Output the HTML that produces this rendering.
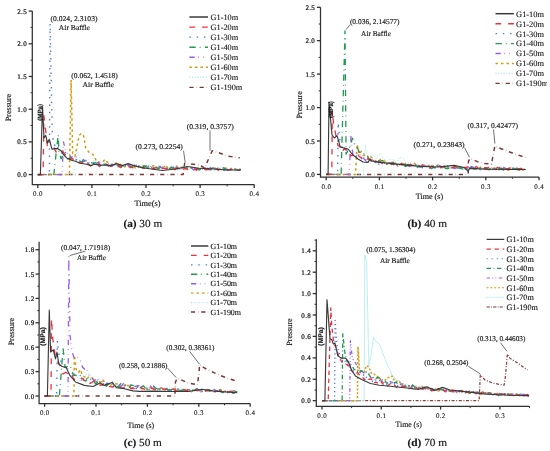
<!DOCTYPE html>
<html><head><meta charset="utf-8"><style>
html,body{margin:0;padding:0;background:#fff;overflow:hidden;}
svg{display:block;filter:blur(0.35px);}
text{font-family:"Liberation Serif", serif;fill:#151515;stroke:#151515;stroke-width:0.15px;text-rendering:geometricPrecision;}
.tk{stroke-width:0.22px;}
.tx{stroke-width:0.1px;}
.lg{stroke-width:0.12px;}
</style></head><body>
<svg width="550" height="451" viewBox="0 0 550 451">
<defs><clipPath id="clipb"><rect x="0" y="0" width="547.0" height="451"/></clipPath></defs>
<rect width="550" height="451" fill="#fff"/>
<path d="M37.8,174.6 L183.1,174.6 L184.7,163.2 L190.4,163.9 L200.5,165.4 L204.9,168.3 L207.4,161.5 L212.2,150.8 L219.5,153.0 L228.2,156.3 L239.8,157.8" fill="none" stroke="#7a3838" stroke-width="1.5" stroke-dasharray="4.2,2.8,0.3,2.9" stroke-linejoin="round"/>
<path d="M37.8,174.6 L73.5,174.6 L75.7,161.5 L76.8,150.4 L78.9,155.0 L81.1,160.1 L83.2,158.4 L85.4,159.4 L87.6,160.1 L89.7,158.0 L91.9,157.7 L94.1,161.1 L96.2,161.8 L98.4,162.1 L100.6,160.2 L102.7,162.3 L104.9,162.7 L107.0,165.4 L109.2,163.3 L111.4,163.9 L113.5,162.0 L115.7,165.2 L117.9,164.8 L120.0,166.7 L122.2,163.9 L124.4,164.6 L126.5,163.7 L128.7,166.5 L130.9,166.0 L133.0,166.3 L135.2,164.4 L137.3,164.8 L139.5,165.6 L141.7,167.0 L143.8,166.9 L146.0,165.6 L148.2,165.4 L150.3,165.3 L152.5,167.5 L154.7,167.1 L156.8,167.5 L159.0,165.2 L161.1,166.6 L163.3,166.3 L165.5,168.8 L167.6,167.1 L169.8,167.6 L172.0,165.6 L174.1,167.7 L176.3,167.5 L178.5,169.1 L180.6,167.2 L182.8,167.2 L185.0,166.4 L187.1,168.2 L189.3,168.6 L191.4,168.6 L193.6,167.4 L195.8,166.9 L197.9,167.8 L200.1,168.5 L202.3,169.4 L204.4,167.8 L206.6,167.7 L208.8,166.9 L210.9,169.1 L213.1,168.6 L215.2,169.5 L217.4,167.1 L219.6,168.1 L221.7,167.5 L223.9,169.9 L226.1,168.7 L228.2,169.1 L230.4,167.1 L232.6,168.4 L234.7,168.5 L236.9,170.0 L239.1,168.8 L240.7,168.7" fill="none" stroke="#a8ecec" stroke-width="1.0" stroke-dasharray="1,1.7" stroke-linejoin="round"/>
<path d="M37.8,174.6 L69.4,174.6 L71.1,79.8 L72.7,153.7 L74.9,156.4 L77.0,146.7 L79.2,135.3 L81.4,133.3 L83.5,135.2 L85.7,147.8 L87.8,150.7 L90.0,153.5 L92.2,154.0 L94.3,156.0 L96.5,161.6 L98.7,161.9 L100.8,163.1 L103.0,161.7 L105.2,159.3 L107.3,162.3 L109.5,162.7 L111.6,165.0 L113.8,165.2 L116.0,162.8 L118.1,164.3 L120.3,164.2 L122.5,166.2 L124.6,167.0 L126.8,164.7 L129.0,165.4 L131.1,164.6 L133.3,166.2 L135.5,167.9 L137.6,166.0 L139.8,166.4 L141.9,165.2 L144.1,166.0 L146.3,168.3 L148.4,167.0 L150.6,167.4 L152.8,165.9 L154.9,165.7 L157.1,168.0 L159.3,167.4 L161.4,168.2 L163.6,166.7 L165.7,165.7 L167.9,167.7 L170.1,167.4 L172.2,168.7 L174.4,167.7 L176.6,166.1 L178.7,167.6 L180.9,167.4 L183.1,169.0 L185.2,168.9 L187.4,167.0 L189.6,167.9 L191.7,167.4 L193.9,169.1 L196.0,169.9 L198.2,168.1 L200.4,168.6 L202.5,167.6 L204.7,168.8 L206.9,170.2 L209.0,168.8 L211.2,169.1 L213.4,167.7 L215.5,168.3 L217.7,170.1 L219.8,169.3 L222.0,169.8 L224.2,168.2 L226.3,168.0 L228.5,169.8 L230.7,169.4 L232.8,170.3 L235.0,169.0 L237.2,168.0 L239.3,169.5 L240.7,169.4" fill="none" stroke="#d49a10" stroke-width="1.5" stroke-dasharray="2.5,3" stroke-linejoin="round"/>
<path d="M37.8,174.6 L62.1,174.6 L63.5,141.9 L65.9,153.0 L68.1,154.0 L70.3,159.0 L72.4,156.4 L74.6,156.8 L76.8,157.5 L78.9,159.5 L81.1,162.7 L83.2,159.7 L85.4,160.8 L87.6,160.5 L89.7,163.4 L91.9,164.4 L94.1,162.0 L96.2,163.0 L98.4,162.4 L100.6,165.7 L102.7,164.8 L104.9,163.4 L107.0,163.9 L109.2,163.9 L111.4,166.9 L113.5,164.8 L115.7,164.6 L117.9,164.4 L120.0,165.5 L122.2,167.5 L124.4,165.0 L126.5,165.5 L128.7,164.7 L130.9,166.9 L133.0,167.4 L135.2,165.4 L137.3,166.0 L139.5,165.3 L141.7,168.0 L143.8,167.2 L146.0,166.1 L148.2,166.3 L150.3,166.2 L152.5,168.9 L154.7,167.1 L156.8,166.9 L159.0,166.4 L161.1,167.4 L163.3,169.2 L165.5,167.2 L167.6,167.6 L169.8,166.7 L172.0,168.7 L174.1,169.2 L176.3,167.6 L178.5,167.9 L180.6,167.1 L182.8,169.6 L185.0,168.9 L187.1,168.0 L189.3,167.9 L191.4,167.7 L193.6,170.1 L195.8,168.6 L197.9,168.5 L200.1,167.8 L202.3,168.6 L204.4,170.3 L206.6,168.5 L208.8,168.7 L210.9,167.7 L213.1,169.5 L215.2,170.0 L217.4,168.6 L219.6,168.8 L221.7,167.9 L223.9,170.3 L226.1,169.7 L228.2,168.9 L230.4,168.6 L232.6,168.4 L234.7,170.7 L236.9,169.4 L239.1,169.3 L240.7,169.4" fill="none" stroke="#9a5cf0" stroke-width="1.3" stroke-dasharray="5.3,3.5,0.6,4.3,0.6,4.3" stroke-linejoin="round"/>
<path d="M37.8,174.6 L53.8,174.6 L58.2,134.7 L58.9,151.7 L61.1,158.8 L63.2,154.3 L65.4,153.9 L67.6,158.9 L69.7,158.0 L71.9,159.1 L74.0,157.9 L76.2,159.1 L78.4,163.1 L80.5,161.5 L82.7,161.9 L84.9,160.9 L87.0,162.7 L89.2,165.3 L91.4,162.8 L93.5,163.3 L95.7,162.7 L97.9,164.9 L100.0,166.1 L102.2,163.3 L104.3,164.3 L106.5,164.2 L108.7,166.3 L110.8,166.2 L113.0,163.8 L115.2,165.4 L117.3,165.5 L119.5,167.2 L121.7,166.1 L123.8,164.3 L126.0,166.6 L128.1,166.5 L130.3,167.7 L132.5,166.0 L134.6,165.2 L136.8,167.7 L139.0,167.2 L141.1,167.8 L143.3,165.9 L145.5,166.1 L147.6,168.5 L149.8,167.4 L152.0,167.6 L154.1,165.9 L156.3,167.2 L158.4,168.9 L160.6,167.3 L162.8,167.5 L164.9,166.4 L167.1,168.3 L169.3,169.1 L171.4,167.2 L173.6,167.6 L175.8,167.1 L177.9,169.1 L180.1,169.0 L182.2,167.1 L184.4,168.0 L186.6,167.9 L188.7,169.7 L190.9,168.6 L193.1,167.2 L195.2,168.6 L197.4,168.6 L199.6,170.0 L201.7,168.3 L203.9,167.6 L206.1,169.3 L208.2,169.1 L210.4,169.9 L212.5,167.9 L214.7,168.1 L216.9,169.9 L219.0,169.3 L221.2,169.6 L223.4,167.7 L225.5,168.9 L227.7,170.3 L229.9,169.2 L232.0,169.3 L234.2,167.9 L236.3,169.7 L238.5,170.4 L240.7,169.4" fill="none" stroke="#1f9a50" stroke-width="1.3" stroke-dasharray="6.3,4,0.8,4.4" stroke-linejoin="round"/>
<path d="M37.8,174.6 L49.4,174.6 L50.1,23.5 L52.3,135.4 L54.5,145.5 L56.6,143.1 L58.8,150.0 L61.0,151.0 L63.1,155.8 L65.3,152.4 L67.4,154.6 L69.6,154.5 L71.8,159.1 L73.9,159.8 L76.1,159.9 L78.3,159.3 L80.4,159.5 L82.6,162.7 L84.8,162.8 L86.9,164.3 L89.1,161.3 L91.3,163.0 L93.4,162.5 L95.6,165.7 L97.7,164.3 L99.9,164.3 L102.1,162.7 L104.2,163.9 L106.4,165.5 L108.6,165.7 L110.7,165.6 L112.9,163.5 L115.1,165.2 L117.2,165.1 L119.4,167.7 L121.5,165.6 L123.7,166.0 L125.9,164.5 L128.0,166.6 L130.2,167.0 L132.4,167.3 L134.5,166.1 L136.7,165.1 L138.9,166.5 L141.0,166.8 L143.2,168.4 L145.4,166.0 L147.5,166.6 L149.7,165.4 L151.8,168.2 L154.0,167.6 L156.2,168.1 L158.3,166.2 L160.5,166.7 L162.7,167.7 L164.8,168.4 L167.0,168.8 L169.2,166.9 L171.3,167.6 L173.5,167.1 L175.6,169.6 L177.8,168.3 L180.0,168.7 L182.1,166.7 L184.3,168.2 L186.5,168.6 L188.6,169.6 L190.8,168.7 L193.0,167.6 L195.1,168.1 L197.3,168.4 L199.5,170.2 L201.6,168.6 L203.8,168.9 L205.9,167.2 L208.1,169.4 L210.3,169.1 L212.4,170.1 L214.6,168.4 L216.8,168.2 L218.9,168.6 L221.1,169.5 L223.3,170.3 L225.4,168.8 L227.6,168.9 L229.7,167.9 L231.9,170.2 L234.1,169.5 L236.2,170.3 L238.4,168.1 L240.6,169.0 L240.7,169.4" fill="none" stroke="#4a80f0" stroke-width="1.4" stroke-dasharray="1.5,5.8" stroke-linejoin="round"/>
<path d="M37.8,174.6 L43.1,174.6 L43.9,115.7 L45.1,125.5 L47.3,145.7 L49.4,146.1 L51.6,146.8 L53.8,147.1 L55.9,151.9 L58.1,152.0 L60.3,153.0 L62.4,150.4 L64.6,154.4 L66.7,156.0 L68.9,160.2 L71.1,157.8 L73.2,159.2 L75.4,158.8 L77.6,163.1 L79.7,162.2 L81.9,163.4 L84.1,160.6 L86.2,163.6 L88.4,163.6 L90.5,166.1 L92.7,163.3 L94.9,164.2 L97.0,163.3 L99.2,166.5 L101.4,165.3 L103.5,165.8 L105.7,163.4 L107.9,165.6 L110.0,165.8 L112.2,167.3 L114.4,165.0 L116.5,165.3 L118.7,165.2 L120.8,167.5 L123.0,166.9 L125.2,166.4 L127.3,165.1 L129.5,166.5 L131.7,167.5 L133.8,167.8 L136.0,166.5 L138.2,165.9 L140.3,167.0 L142.5,168.0 L144.6,168.3 L146.8,166.7 L149.0,166.7 L151.1,167.1 L153.3,168.9 L155.5,167.9 L157.6,167.6 L159.8,166.2 L162.0,168.3 L164.1,168.2 L166.3,169.1 L168.5,166.7 L170.6,167.7 L172.8,167.4 L174.9,169.7 L177.1,168.0 L179.3,168.3 L181.4,166.6 L183.6,169.1 L185.8,168.6 L187.9,169.6 L190.1,167.1 L192.3,168.3 L194.4,168.1 L196.6,170.2 L198.7,168.4 L200.9,168.6 L203.1,167.4 L205.2,169.6 L207.4,169.3 L209.6,169.7 L211.7,167.7 L213.9,168.6 L216.1,168.9 L218.2,170.3 L220.4,169.0 L222.6,168.5 L224.7,168.2 L226.9,169.7 L229.0,170.0 L231.2,169.5 L233.4,168.4 L235.5,168.6 L237.7,169.8 L239.9,170.1 L240.7,169.4" fill="none" stroke="#f0303a" stroke-width="1.3" stroke-dasharray="5.7,7" stroke-linejoin="round"/>
<path d="M37.8,174.6 L40.4,174.6 L42.5,106.6 L44.0,138.0 L45.8,135.4 L47.5,143.2 L49.3,139.3 L52.0,149.1 L57.3,148.4 L60.8,150.4 L63.8,155.0 L67.0,158.2 L71.6,160.2 L76.1,161.5 L80.0,163.2 L86.5,164.3 L91.1,165.6 L94.1,164.3 L100.0,165.1 L106.8,165.1 L111.1,165.6 L116.8,163.6 L122.2,165.6 L128.1,163.6 L135.2,166.1 L146.0,168.2 L162.2,170.5 L175.8,169.0 L187.5,166.5 L199.0,168.3 L213.6,169.0 L228.2,170.0 L240.7,170.0" fill="none" stroke="#3a3a3a" stroke-width="1.15" stroke-linejoin="round"/>
<path d="M32.3,11.1 V184.6 H254.3" fill="none" stroke="#303030" stroke-width="1.25"/>
<line x1="28.7" y1="174.6" x2="32.3" y2="174.6" stroke="#303030" stroke-width="1.3"/>
<text x="27.0" y="177.1" text-anchor="end" font-size="7.0" letter-spacing="0.35" class="tk">0.0</text>
<line x1="28.7" y1="141.9" x2="32.3" y2="141.9" stroke="#303030" stroke-width="1.3"/>
<text x="27.0" y="144.4" text-anchor="end" font-size="7.0" letter-spacing="0.35" class="tk">0.5</text>
<line x1="28.7" y1="109.2" x2="32.3" y2="109.2" stroke="#303030" stroke-width="1.3"/>
<text x="27.0" y="111.7" text-anchor="end" font-size="7.0" letter-spacing="0.35" class="tk">1.0</text>
<line x1="28.7" y1="76.5" x2="32.3" y2="76.5" stroke="#303030" stroke-width="1.3"/>
<text x="27.0" y="79.0" text-anchor="end" font-size="7.0" letter-spacing="0.35" class="tk">1.5</text>
<line x1="28.7" y1="43.8" x2="32.3" y2="43.8" stroke="#303030" stroke-width="1.3"/>
<text x="27.0" y="46.3" text-anchor="end" font-size="7.0" letter-spacing="0.35" class="tk">2.0</text>
<line x1="28.7" y1="11.1" x2="32.3" y2="11.1" stroke="#303030" stroke-width="1.3"/>
<text x="27.0" y="13.6" text-anchor="end" font-size="7.0" letter-spacing="0.35" class="tk">2.5</text>
<line x1="30.5" y1="158.2" x2="32.3" y2="158.2" stroke="#303030" stroke-width="1.0"/>
<line x1="30.5" y1="125.5" x2="32.3" y2="125.5" stroke="#303030" stroke-width="1.0"/>
<line x1="30.5" y1="92.8" x2="32.3" y2="92.8" stroke="#303030" stroke-width="1.0"/>
<line x1="30.5" y1="60.1" x2="32.3" y2="60.1" stroke="#303030" stroke-width="1.0"/>
<line x1="30.5" y1="27.4" x2="32.3" y2="27.4" stroke="#303030" stroke-width="1.0"/>
<line x1="37.8" y1="184.6" x2="37.8" y2="187.9" stroke="#303030" stroke-width="1.3"/>
<text x="38.0" y="196.2" text-anchor="middle" font-size="7.0" letter-spacing="0.35" class="tx">0.0</text>
<line x1="91.9" y1="184.6" x2="91.9" y2="187.9" stroke="#303030" stroke-width="1.3"/>
<text x="92.1" y="196.2" text-anchor="middle" font-size="7.0" letter-spacing="0.35" class="tx">0.1</text>
<line x1="146.0" y1="184.6" x2="146.0" y2="187.9" stroke="#303030" stroke-width="1.3"/>
<text x="146.2" y="196.2" text-anchor="middle" font-size="7.0" letter-spacing="0.35" class="tx">0.2</text>
<line x1="200.1" y1="184.6" x2="200.1" y2="187.9" stroke="#303030" stroke-width="1.3"/>
<text x="200.3" y="196.2" text-anchor="middle" font-size="7.0" letter-spacing="0.35" class="tx">0.3</text>
<line x1="254.2" y1="184.6" x2="254.2" y2="187.9" stroke="#303030" stroke-width="1.3"/>
<text x="254.4" y="196.2" text-anchor="middle" font-size="7.0" letter-spacing="0.35" class="tx">0.4</text>
<line x1="64.8" y1="184.6" x2="64.8" y2="186.4" stroke="#303030" stroke-width="1.0"/>
<line x1="118.9" y1="184.6" x2="118.9" y2="186.4" stroke="#303030" stroke-width="1.0"/>
<line x1="173.1" y1="184.6" x2="173.1" y2="186.4" stroke="#303030" stroke-width="1.0"/>
<line x1="227.1" y1="184.6" x2="227.1" y2="186.4" stroke="#303030" stroke-width="1.0"/>
<text transform="translate(11.2,107.5) rotate(-90)" text-anchor="middle" font-size="8.1">Pressure</text>
<text transform="translate(42.2,112.3) rotate(-90)" text-anchor="middle" font-size="6.2" font-weight="bold" style="font-family:'Liberation Sans',sans-serif">(MPa)</text>
<text x="134.4" y="206.0" font-size="8.20" textLength="26.1" lengthAdjust="spacingAndGlyphs">Time(s)</text>
<text x="123.4" y="227.3" font-size="10.8" textLength="38.8" lengthAdjust="spacingAndGlyphs"><tspan font-weight="bold">(a)</tspan> 30 m</text>
<text x="50.5" y="21.1" font-size="7.40" textLength="47.0" lengthAdjust="spacingAndGlyphs">(0.024, 2.3103)</text>
<text x="58.8" y="30.0" font-size="7.40" textLength="31.0" lengthAdjust="spacingAndGlyphs">Air Baffle</text>
<text x="71.3" y="77.6" font-size="7.40" textLength="46.6" lengthAdjust="spacingAndGlyphs">(0.062, 1.4518)</text>
<text x="82.5" y="86.9" font-size="7.40" textLength="31.4" lengthAdjust="spacingAndGlyphs">Air Baffle</text>
<text x="135.5" y="149.2" font-size="7.40" textLength="47.4" lengthAdjust="spacingAndGlyphs">(0.273, 0.2254)</text>
<text x="186.7" y="129.2" font-size="7.40" textLength="47.1" lengthAdjust="spacingAndGlyphs">(0.319, 0.3757)</text>
<line x1="183.5" y1="150.7" x2="185.2" y2="162.4" stroke="#333" stroke-width="0.7"/>
<line x1="210.0" y1="130.4" x2="210.0" y2="150.7" stroke="#333" stroke-width="0.7"/>
<line x1="189.4" y1="17.0" x2="208.0" y2="17.0" stroke="#3a3a3a" stroke-width="1.5"/>
<text x="210.5" y="19.8" font-size="8.31" class="lg">G1-10m</text>
<line x1="189.4" y1="27.1" x2="208.0" y2="27.1" stroke="#f0303a" stroke-width="1.4" stroke-dasharray="5.7,7"/>
<text x="210.5" y="29.9" font-size="8.31" class="lg">G1-20m</text>
<line x1="189.4" y1="37.1" x2="208.0" y2="37.1" stroke="#4a80f0" stroke-width="1.4" stroke-dasharray="1.5,5.8"/>
<text x="210.5" y="39.9" font-size="8.31" class="lg">G1-30m</text>
<line x1="189.4" y1="47.2" x2="208.0" y2="47.2" stroke="#1f9a50" stroke-width="1.4" stroke-dasharray="6.3,4,0.8,4.4"/>
<text x="210.5" y="50.0" font-size="8.31" class="lg">G1-40m</text>
<line x1="189.4" y1="57.2" x2="208.0" y2="57.2" stroke="#9a5cf0" stroke-width="1.4" stroke-dasharray="5.3,3.5,0.6,4.3,0.6,4.3"/>
<text x="210.5" y="60.0" font-size="8.31" class="lg">G1-50m</text>
<line x1="189.4" y1="67.2" x2="208.0" y2="67.2" stroke="#d49a10" stroke-width="1.4" stroke-dasharray="2.5,3"/>
<text x="210.5" y="70.1" font-size="8.31" class="lg">G1-60m</text>
<line x1="189.4" y1="77.3" x2="208.0" y2="77.3" stroke="#a8ecec" stroke-width="1.4" stroke-dasharray="1,1.7"/>
<text x="210.5" y="80.1" font-size="8.31" class="lg">G1-70m</text>
<line x1="189.4" y1="87.4" x2="208.0" y2="87.4" stroke="#7a3838" stroke-width="1.4" stroke-dasharray="4.2,2.8,0.3,2.9"/>
<text x="210.5" y="90.2" font-size="8.31" class="lg">G1-190m</text>
<g clip-path="url(#clipb)">
<path d="M326.2,174.4 L468.2,174.4 L468.5,161.0 L470.4,158.5 L480.5,163.0 L491.4,164.1 L494.0,151.0 L494.8,146.0 L501.8,149.0 L512.4,153.0 L526.0,157.8" fill="none" stroke="#7a3838" stroke-width="1.5" stroke-dasharray="4.2,2.8,0.3,2.9" stroke-linejoin="round"/>
<path d="M326.2,174.4 L363.4,174.4 L365.3,144.3 L367.7,157.7 L369.8,156.4 L372.0,155.7 L374.1,155.4 L376.2,158.8 L378.3,154.4 L380.5,154.2 L382.6,155.8 L384.7,160.0 L386.8,162.3 L389.0,159.1 L391.1,160.1 L393.2,159.3 L395.4,162.5 L397.5,161.2 L399.6,156.9 L401.7,157.8 L403.9,158.5 L406.0,163.3 L408.1,162.6 L410.3,162.7 L412.4,163.9 L414.5,164.2 L416.6,166.8 L418.8,164.2 L420.9,164.3 L423.0,164.4 L425.2,165.7 L427.3,167.1 L429.4,164.3 L431.5,165.3 L433.7,165.0 L435.8,167.1 L437.9,166.9 L440.0,164.8 L442.2,166.0 L444.3,165.8 L446.4,168.1 L448.6,166.5 L450.7,165.5 L452.8,166.5 L454.9,166.8 L457.1,168.7 L459.2,166.2 L461.3,166.4 L463.5,167.0 L465.6,167.9 L467.7,168.8 L469.8,166.3 L472.0,167.4 L474.1,167.5 L476.2,169.0 L478.4,168.6 L480.5,166.7 L482.6,168.2 L484.7,168.2 L486.9,169.8 L489.0,168.2 L491.1,167.4 L493.2,168.6 L495.4,168.7 L497.5,170.0 L499.6,167.6 L501.8,168.0 L503.9,168.8 L506.0,169.3 L508.1,169.8 L510.3,167.4 L512.4,168.7 L514.5,168.9 L516.7,169.9 L518.8,169.3 L520.9,167.5 L523.0,169.2 L525.2,169.1 L525.7,169.1" fill="none" stroke="#a8ecec" stroke-width="1.0" stroke-dasharray="1,1.7" stroke-linejoin="round"/>
<path d="M326.2,174.4 L355.5,174.4 L357.1,144.3 L359.2,154.3 L361.3,151.4 L363.4,155.4 L365.6,155.4 L367.7,158.3 L369.8,155.7 L372.0,157.9 L374.1,159.7 L376.2,161.2 L378.3,162.1 L380.5,159.3 L382.6,161.2 L384.7,160.9 L386.8,164.4 L389.0,163.1 L391.1,162.5 L393.2,162.2 L395.4,162.8 L397.5,165.7 L399.6,164.2 L401.7,164.8 L403.9,162.4 L406.0,164.5 L408.1,165.4 L410.3,166.0 L412.4,165.6 L414.5,163.4 L416.6,165.4 L418.8,165.2 L420.9,167.6 L423.0,165.6 L425.2,165.2 L427.3,165.1 L429.4,166.1 L431.5,168.0 L433.7,166.2 L435.8,166.6 L437.9,164.9 L440.0,167.3 L442.2,167.6 L444.3,167.7 L446.4,166.9 L448.6,165.6 L450.7,167.7 L452.8,167.5 L454.9,169.1 L457.1,166.9 L459.2,167.0 L461.3,167.2 L463.5,168.3 L465.6,169.3 L467.7,167.4 L469.8,167.8 L472.0,166.6 L474.1,169.1 L476.2,168.8 L478.4,168.6 L480.5,167.6 L482.6,167.1 L484.7,169.1 L486.9,168.7 L489.0,169.7 L491.1,167.3 L493.2,168.1 L495.4,168.3 L497.5,169.5 L499.6,169.8 L501.8,167.9 L503.9,168.5 L506.0,167.9 L508.1,170.3 L510.3,169.4 L512.4,169.2 L514.5,168.2 L516.7,168.4 L518.8,170.2 L520.9,169.6 L523.0,170.1 L525.2,168.0 L525.7,169.4" fill="none" stroke="#d49a10" stroke-width="1.5" stroke-dasharray="2.5,3" stroke-linejoin="round"/>
<path d="M326.2,174.4 L349.1,174.4 L351.0,136.3 L352.8,154.3 L354.9,152.8 L357.1,152.6 L359.2,152.6 L361.3,157.9 L363.4,158.1 L365.6,160.5 L367.7,157.2 L369.8,159.5 L372.0,159.1 L374.1,163.2 L376.2,161.9 L378.3,162.5 L380.5,160.6 L382.6,162.4 L384.7,163.6 L386.8,164.6 L389.0,164.0 L391.1,162.4 L393.2,163.6 L395.4,164.1 L397.5,166.5 L399.6,164.6 L401.7,165.0 L403.9,163.1 L406.0,166.0 L408.1,165.7 L410.3,167.3 L412.4,164.8 L414.5,165.2 L416.6,164.9 L418.8,166.9 L420.9,167.0 L423.0,166.1 L425.2,165.3 L427.3,165.0 L429.4,167.1 L431.5,166.9 L433.7,167.6 L435.8,165.0 L437.9,166.4 L440.0,165.9 L442.2,168.6 L444.3,167.0 L446.4,167.3 L448.6,165.6 L450.7,167.3 L452.8,167.8 L454.9,168.6 L457.1,167.5 L459.2,166.7 L461.3,167.3 L463.5,167.9 L465.6,169.4 L467.7,167.7 L469.8,167.9 L472.0,166.4 L474.1,168.9 L476.2,168.4 L478.4,169.5 L480.5,167.2 L482.6,167.9 L484.7,167.6 L486.9,169.5 L489.0,169.1 L491.1,168.5 L493.2,167.6 L495.4,167.9 L497.5,169.4 L499.6,169.3 L501.8,169.5 L503.9,167.5 L506.0,168.7 L508.1,168.4 L510.3,170.6 L512.4,168.9 L514.5,169.2 L516.7,167.7 L518.8,169.5 L520.9,169.6 L523.0,170.4 L525.2,169.0 L525.7,169.4" fill="none" stroke="#9a5cf0" stroke-width="1.3" stroke-dasharray="5.3,3.5,0.6,4.3,0.6,4.3" stroke-linejoin="round"/>
<path d="M326.2,174.4 L341.1,174.4 L345.0,31.0 L346.1,154.3 L348.3,149.9 L350.4,145.1 L352.5,138.1 L354.7,145.0 L356.8,146.2 L358.9,151.5 L361.0,153.3 L363.2,152.8 L365.3,155.9 L367.4,155.6 L369.6,160.2 L371.7,160.9 L373.8,161.8 L375.9,162.8 L378.1,160.1 L380.2,161.5 L382.3,160.4 L384.5,162.6 L386.6,164.3 L388.7,164.0 L390.8,165.4 L393.0,162.7 L395.1,163.5 L397.2,163.3 L399.4,164.1 L401.5,166.5 L403.6,165.3 L405.7,166.4 L407.9,164.4 L410.0,164.4 L412.1,165.3 L414.2,165.3 L416.4,167.8 L418.5,166.5 L420.6,167.0 L422.8,165.8 L424.9,165.0 L427.0,166.7 L429.1,166.3 L431.3,168.6 L433.4,167.7 L435.5,167.2 L437.7,166.9 L439.8,165.5 L441.9,167.5 L444.0,167.1 L446.2,168.6 L448.3,168.5 L450.4,167.0 L452.6,167.5 L454.7,165.9 L456.8,167.7 L458.9,168.0 L461.1,168.5 L463.2,169.1 L465.3,167.1 L467.4,167.7 L469.6,166.6 L471.7,167.8 L473.8,168.9 L476.0,168.6 L478.1,169.5 L480.2,167.4 L482.3,167.8 L484.5,167.4 L486.6,167.9 L488.7,169.7 L490.9,168.8 L493.0,169.7 L495.1,167.9 L497.2,167.7 L499.4,168.3 L501.5,168.1 L503.6,170.2 L505.8,169.2 L507.9,169.6 L510.0,168.6 L512.1,167.7 L514.3,169.0 L516.4,168.6 L518.5,170.5 L520.6,169.9 L522.8,169.5 L524.9,169.3 L525.7,169.4" fill="none" stroke="#1f9a50" stroke-width="1.3" stroke-dasharray="6.3,4,0.8,4.4" stroke-linejoin="round"/>
<path d="M326.2,174.4 L337.6,174.4 L338.2,122.3 L340.0,141.0 L342.2,147.9 L344.3,147.4 L346.4,148.6 L348.5,154.7 L350.7,155.1 L352.8,157.3 L354.9,157.9 L357.1,154.9 L359.2,157.1 L361.3,158.3 L363.4,159.4 L365.6,162.8 L367.7,161.3 L369.8,160.9 L372.0,161.5 L374.1,160.1 L376.2,162.8 L378.3,164.1 L380.5,163.6 L382.6,165.0 L384.7,162.8 L386.8,162.4 L389.0,164.2 L391.1,163.8 L393.2,166.0 L395.4,166.2 L397.5,164.2 L399.6,164.9 L401.7,163.7 L403.9,164.3 L406.0,166.7 L408.1,166.0 L410.3,166.7 L412.4,166.1 L414.5,164.1 L416.6,165.7 L418.8,165.9 L420.9,166.6 L423.0,168.3 L425.2,166.5 L427.3,166.3 L429.4,166.3 L431.5,165.5 L433.7,167.8 L435.8,168.1 L437.9,167.6 L440.0,168.1 L442.2,166.0 L444.3,166.3 L446.4,167.5 L448.6,167.2 L450.7,169.0 L452.8,168.4 L454.9,166.8 L457.1,167.5 L459.2,166.4 L461.3,167.5 L463.5,169.2 L465.6,168.2 L467.7,168.7 L469.8,167.7 L472.0,166.4 L474.1,168.1 L476.2,168.0 L478.4,168.9 L480.5,169.7 L482.6,167.7 L484.7,167.9 L486.9,167.7 L489.0,167.4 L491.1,169.7 L493.2,169.3 L495.4,168.9 L497.5,169.1 L499.6,167.2 L501.8,168.1 L503.9,169.1 L506.0,169.0 L508.1,170.4 L510.3,169.2 L512.4,168.2 L514.5,168.8 L516.7,168.0 L518.8,169.5 L520.9,170.5 L523.0,169.4 L525.2,169.9 L525.7,169.4" fill="none" stroke="#4a80f0" stroke-width="1.4" stroke-dasharray="1.5,5.8" stroke-linejoin="round"/>
<path d="M326.2,174.4 L331.8,174.4 L332.3,110.9 L333.6,124.3 L335.8,134.6 L337.9,145.4 L340.0,146.6 L342.2,152.3 L344.3,148.3 L346.4,150.6 L348.5,149.7 L350.7,156.0 L352.8,154.9 L354.9,156.3 L357.1,153.1 L359.2,156.5 L361.3,157.6 L363.4,160.8 L365.6,158.9 L367.7,159.2 L369.8,159.5 L372.0,162.3 L374.1,163.2 L376.2,162.8 L378.3,161.7 L380.5,162.0 L382.6,164.0 L384.7,164.7 L386.8,164.8 L389.0,162.8 L391.1,163.9 L393.2,164.3 L395.4,166.6 L397.5,164.7 L399.6,164.8 L401.7,163.2 L403.9,166.1 L406.0,165.7 L408.1,167.0 L410.3,164.1 L412.4,165.5 L414.5,165.1 L416.6,167.9 L418.8,166.1 L420.9,166.5 L423.0,164.6 L425.2,167.1 L427.3,167.1 L429.4,168.2 L431.5,166.0 L433.7,166.5 L435.8,166.5 L437.9,168.4 L440.0,167.8 L442.2,167.2 L444.3,166.2 L446.4,167.1 L448.6,168.3 L450.7,168.3 L452.8,167.5 L454.9,166.4 L457.1,167.5 L459.2,168.1 L461.3,169.1 L463.5,167.3 L465.6,167.4 L467.7,166.8 L469.8,169.2 L472.0,168.4 L474.1,168.8 L476.2,166.5 L478.4,168.2 L480.5,168.0 L482.6,170.0 L484.7,167.8 L486.9,168.2 L489.0,167.1 L491.1,169.6 L493.2,168.9 L495.4,169.5 L497.5,167.3 L499.6,168.5 L501.8,168.6 L503.9,170.2 L506.0,168.9 L508.1,168.5 L510.3,168.0 L512.4,169.4 L514.5,169.9 L516.7,169.6 L518.8,168.6 L520.9,168.3 L523.0,169.5 L525.2,170.0 L525.7,169.4" fill="none" stroke="#f0303a" stroke-width="1.3" stroke-dasharray="5.7,7" stroke-linejoin="round"/>
<path d="M326.2,174.4 L328.1,174.4 L329.0,102.0 L332.0,135.0 L334.4,138.0 L337.0,135.6 L339.0,142.0 L340.0,147.0 L344.0,148.0 L348.0,149.0 L353.0,155.0 L358.0,159.0 L363.0,162.0 L368.0,162.4 L370.0,159.0 L372.0,161.0 L380.0,162.4 L400.0,164.4 L420.0,166.4 L437.9,167.0 L454.4,165.4 L464.5,167.7 L468.0,171.1 L469.8,168.4 L485.8,169.1 L525.7,169.5" fill="none" stroke="#3a3a3a" stroke-width="1.15" stroke-linejoin="round"/>
<path d="M320.5,7.3 V177.0 H539.1" fill="none" stroke="#303030" stroke-width="1.25"/>
<line x1="316.9" y1="174.4" x2="320.5" y2="174.4" stroke="#303030" stroke-width="1.3"/>
<text x="315.2" y="176.9" text-anchor="end" font-size="7.0" letter-spacing="0.35" class="tk">0.0</text>
<line x1="316.9" y1="141.0" x2="320.5" y2="141.0" stroke="#303030" stroke-width="1.3"/>
<text x="315.2" y="143.5" text-anchor="end" font-size="7.0" letter-spacing="0.35" class="tk">0.5</text>
<line x1="316.9" y1="107.6" x2="320.5" y2="107.6" stroke="#303030" stroke-width="1.3"/>
<text x="315.2" y="110.1" text-anchor="end" font-size="7.0" letter-spacing="0.35" class="tk">1.0</text>
<line x1="316.9" y1="74.1" x2="320.5" y2="74.1" stroke="#303030" stroke-width="1.3"/>
<text x="315.2" y="76.7" text-anchor="end" font-size="7.0" letter-spacing="0.35" class="tk">1.5</text>
<line x1="316.9" y1="40.7" x2="320.5" y2="40.7" stroke="#303030" stroke-width="1.3"/>
<text x="315.2" y="43.2" text-anchor="end" font-size="7.0" letter-spacing="0.35" class="tk">2.0</text>
<line x1="316.9" y1="7.3" x2="320.5" y2="7.3" stroke="#303030" stroke-width="1.3"/>
<text x="315.2" y="9.8" text-anchor="end" font-size="7.0" letter-spacing="0.35" class="tk">2.5</text>
<line x1="318.7" y1="157.7" x2="320.5" y2="157.7" stroke="#303030" stroke-width="1.0"/>
<line x1="318.7" y1="124.3" x2="320.5" y2="124.3" stroke="#303030" stroke-width="1.0"/>
<line x1="318.7" y1="90.8" x2="320.5" y2="90.8" stroke="#303030" stroke-width="1.0"/>
<line x1="318.7" y1="57.4" x2="320.5" y2="57.4" stroke="#303030" stroke-width="1.0"/>
<line x1="318.7" y1="24.0" x2="320.5" y2="24.0" stroke="#303030" stroke-width="1.0"/>
<line x1="326.2" y1="177.0" x2="326.2" y2="180.3" stroke="#303030" stroke-width="1.3"/>
<text x="326.4" y="188.6" text-anchor="middle" font-size="7.0" letter-spacing="0.35" class="tx">0.0</text>
<line x1="379.4" y1="177.0" x2="379.4" y2="180.3" stroke="#303030" stroke-width="1.3"/>
<text x="379.6" y="188.6" text-anchor="middle" font-size="7.0" letter-spacing="0.35" class="tx">0.1</text>
<line x1="432.6" y1="177.0" x2="432.6" y2="180.3" stroke="#303030" stroke-width="1.3"/>
<text x="432.8" y="188.6" text-anchor="middle" font-size="7.0" letter-spacing="0.35" class="tx">0.2</text>
<line x1="485.8" y1="177.0" x2="485.8" y2="180.3" stroke="#303030" stroke-width="1.3"/>
<text x="486.0" y="188.6" text-anchor="middle" font-size="7.0" letter-spacing="0.35" class="tx">0.3</text>
<line x1="539.0" y1="177.0" x2="539.0" y2="180.3" stroke="#303030" stroke-width="1.3"/>
<text x="539.2" y="188.6" text-anchor="middle" font-size="7.0" letter-spacing="0.35" class="tx">0.4</text>
<line x1="352.8" y1="177.0" x2="352.8" y2="178.8" stroke="#303030" stroke-width="1.0"/>
<line x1="406.0" y1="177.0" x2="406.0" y2="178.8" stroke="#303030" stroke-width="1.0"/>
<line x1="459.2" y1="177.0" x2="459.2" y2="178.8" stroke="#303030" stroke-width="1.0"/>
<line x1="512.4" y1="177.0" x2="512.4" y2="178.8" stroke="#303030" stroke-width="1.0"/>
<text transform="translate(301.9,104.8) rotate(-90)" text-anchor="middle" font-size="8.1">Pressure</text>
<text transform="translate(333.2,109.5) rotate(-90)" text-anchor="middle" font-size="6.2" font-weight="bold" style="font-family:'Liberation Sans',sans-serif">(MPa)</text>
<text x="415.8" y="199.2" font-size="8.20" textLength="27.3" lengthAdjust="spacingAndGlyphs">Time (s)</text>
<text x="407.5" y="226.9" font-size="10.8" textLength="39.7" lengthAdjust="spacingAndGlyphs"><tspan font-weight="bold">(b)</tspan> 40 m</text>
<text x="349.9" y="23.9" font-size="7.40" textLength="49.7" lengthAdjust="spacingAndGlyphs">(0.036, 2.14577)</text>
<text x="361.1" y="35.6" font-size="7.40" textLength="29.8" lengthAdjust="spacingAndGlyphs">Air Baffle</text>
<text x="413.6" y="147.3" font-size="7.40" textLength="51.0" lengthAdjust="spacingAndGlyphs">(0.271, 0.23843)</text>
<text x="467.6" y="128.2" font-size="7.40" textLength="50.5" lengthAdjust="spacingAndGlyphs">(0.317, 0.42477)</text>
<line x1="346.1" y1="29.6" x2="350.2" y2="24.5" stroke="#333" stroke-width="0.7"/>
<line x1="464.6" y1="147.7" x2="469.5" y2="157.3" stroke="#333" stroke-width="0.7"/>
<line x1="493.5" y1="129.5" x2="494.9" y2="143.6" stroke="#333" stroke-width="0.7"/>
<line x1="495.5" y1="13.7" x2="513.9" y2="13.7" stroke="#3a3a3a" stroke-width="1.5"/>
<text x="516.1" y="16.6" font-size="8.40" class="lg">G1-10m</text>
<line x1="495.5" y1="23.7" x2="513.9" y2="23.7" stroke="#f0303a" stroke-width="1.4" stroke-dasharray="5.7,7"/>
<text x="516.1" y="26.5" font-size="8.40" class="lg">G1-20m</text>
<line x1="495.5" y1="33.6" x2="513.9" y2="33.6" stroke="#4a80f0" stroke-width="1.4" stroke-dasharray="1.5,5.8"/>
<text x="516.1" y="36.5" font-size="8.40" class="lg">G1-30m</text>
<line x1="495.5" y1="43.6" x2="513.9" y2="43.6" stroke="#1f9a50" stroke-width="1.4" stroke-dasharray="6.3,4,0.8,4.4"/>
<text x="516.1" y="46.4" font-size="8.40" class="lg">G1-40m</text>
<line x1="495.5" y1="53.5" x2="513.9" y2="53.5" stroke="#9a5cf0" stroke-width="1.4" stroke-dasharray="5.3,3.5,0.6,4.3,0.6,4.3"/>
<text x="516.1" y="56.4" font-size="8.40" class="lg">G1-50m</text>
<line x1="495.5" y1="63.5" x2="513.9" y2="63.5" stroke="#d49a10" stroke-width="1.4" stroke-dasharray="2.5,3"/>
<text x="516.1" y="66.4" font-size="8.40" class="lg">G1-60m</text>
<line x1="495.5" y1="73.5" x2="513.9" y2="73.5" stroke="#a8ecec" stroke-width="1.4" stroke-dasharray="1,1.7"/>
<text x="516.1" y="76.3" font-size="8.40" class="lg">G1-70m</text>
<line x1="495.5" y1="83.4" x2="513.9" y2="83.4" stroke="#7a3838" stroke-width="1.4" stroke-dasharray="4.2,2.8,0.3,2.9"/>
<text x="516.1" y="86.3" font-size="8.40" class="lg">G1-190m</text>
</g>
<path d="M44.6,396.0 L175.0,396.0 L175.4,382.2 L177.2,378.2 L188.5,383.0 L197.5,384.6 L199.1,371.6 L199.5,364.8 L206.5,369.2 L216.8,374.0 L227.1,378.1 L236.7,381.1" fill="none" stroke="#7a3838" stroke-width="1.5" stroke-dasharray="4.2,2.8,0.3,2.9" stroke-linejoin="round"/>
<path d="M44.6,396.0 L78.5,396.0 L79.6,371.6 L83.2,378.1 L85.2,374.8 L87.3,373.7 L89.3,373.5 L91.4,379.5 L93.4,378.5 L95.5,380.3 L97.5,379.4 L99.6,378.2 L101.7,381.9 L103.7,381.8 L105.8,384.9 L107.8,384.5 L109.9,382.6 L111.9,383.6 L114.0,381.9 L116.0,385.0 L118.1,385.9 L120.2,386.1 L122.2,387.0 L124.3,384.0 L126.3,385.2 L128.4,385.0 L130.4,386.2 L132.5,388.5 L134.6,386.8 L136.6,387.6 L138.7,385.7 L140.7,385.8 L142.8,387.8 L144.8,387.5 L146.9,389.9 L148.9,388.2 L151.0,387.4 L153.1,387.4 L155.1,386.4 L157.2,389.2 L159.2,388.8 L161.3,389.5 L163.3,389.0 L165.4,386.8 L167.4,388.2 L169.5,387.4 L171.6,389.4 L173.6,390.2 L175.7,388.9 L177.7,389.5 L179.8,387.3 L181.8,388.6 L183.9,389.5 L186.0,389.8 L188.0,391.5 L190.1,389.4 L192.1,389.6 L194.2,389.0 L196.2,389.1 L198.3,391.4 L200.3,390.7 L202.4,391.7 L204.5,390.4 L206.5,389.3 L208.6,390.4 L210.6,389.9 L212.7,392.2 L214.7,391.8 L216.8,391.3 L218.8,391.3 L220.9,389.5 L223.0,391.2 L225.0,391.4 L227.1,392.3 L229.1,392.9 L231.2,391.0 L233.2,391.6 L235.3,390.6 L237.3,391.9" fill="none" stroke="#a8ecec" stroke-width="1.0" stroke-dasharray="1,1.7" stroke-linejoin="round"/>
<path d="M44.6,396.0 L73.9,396.0 L74.4,355.4 L76.5,371.6 L78.5,372.2 L80.6,369.6 L82.6,375.9 L84.7,376.6 L86.7,379.3 L88.8,377.1 L90.9,376.7 L92.9,378.4 L95.0,380.0 L97.0,383.5 L99.1,381.5 L101.1,382.6 L103.2,380.1 L105.3,383.8 L107.3,383.9 L109.4,386.3 L111.4,384.5 L113.5,383.6 L115.5,383.6 L117.6,384.2 L119.6,387.0 L121.7,385.9 L123.8,386.7 L125.8,383.6 L127.9,385.8 L129.9,385.5 L132.0,388.3 L134.0,387.2 L136.1,386.6 L138.1,385.8 L140.2,386.0 L142.3,388.5 L144.3,388.1 L146.4,389.2 L148.4,386.4 L150.5,387.7 L152.5,387.0 L154.6,389.8 L156.7,389.2 L158.7,389.1 L160.8,387.8 L162.8,387.5 L164.9,389.4 L166.9,389.5 L169.0,390.9 L171.0,388.4 L173.1,389.2 L175.2,388.0 L177.2,390.6 L179.3,390.3 L181.3,390.7 L183.4,389.3 L185.4,388.6 L187.5,389.8 L189.5,390.1 L191.6,391.8 L193.7,389.8 L195.7,390.3 L197.8,388.5 L199.8,390.8 L201.9,390.8 L203.9,391.8 L206.0,390.5 L208.1,389.7 L210.1,390.2 L212.2,390.5 L214.2,392.5 L216.3,391.1 L218.3,391.6 L220.4,389.5 L222.4,391.3 L224.5,391.3 L226.6,392.8 L228.6,391.9 L230.7,391.1 L232.7,391.0 L234.8,391.1 L236.8,393.1 L237.3,391.9" fill="none" stroke="#d49a10" stroke-width="1.5" stroke-dasharray="2.5,3" stroke-linejoin="round"/>
<path d="M44.6,396.0 L68.0,396.0 L68.8,256.2 L70.0,335.0 L72.1,352.0 L74.2,358.1 L76.2,358.5 L78.3,357.4 L80.3,359.5 L82.4,367.0 L84.4,369.0 L86.5,368.4 L88.5,374.8 L90.6,375.8 L92.7,379.2 L94.7,380.8 L96.8,378.0 L98.8,379.9 L100.9,379.9 L102.9,381.8 L105.0,385.2 L107.1,383.3 L109.1,383.7 L111.2,382.6 L113.2,381.9 L115.3,385.5 L117.3,385.3 L119.4,386.4 L121.4,386.2 L123.5,383.5 L125.6,385.3 L127.6,385.4 L129.7,386.7 L131.7,388.6 L133.8,386.2 L135.8,386.4 L137.9,385.9 L139.9,385.8 L142.0,388.9 L144.1,388.2 L146.1,388.5 L148.2,388.0 L150.2,386.0 L152.3,388.1 L154.3,388.4 L156.4,389.2 L158.5,390.3 L160.5,387.7 L162.6,388.2 L164.6,388.1 L166.7,388.4 L168.7,391.0 L170.8,389.8 L172.8,389.7 L174.9,389.2 L177.0,387.8 L179.0,390.1 L181.1,390.3 L183.1,390.6 L185.2,391.0 L187.2,388.5 L189.3,389.3 L191.3,389.7 L193.4,390.1 L195.5,392.1 L197.5,390.3 L199.6,390.0 L201.6,389.8 L203.7,389.0 L205.7,391.5 L207.8,391.4 L209.9,391.3 L211.9,391.4 L214.0,389.3 L216.0,390.6 L218.1,391.2 L220.1,391.5 L222.2,392.9 L224.2,391.0 L226.3,390.8 L228.4,391.0 L230.4,390.7 L232.5,393.0 L234.5,392.5 L236.6,392.0 L237.3,391.9" fill="none" stroke="#9a5cf0" stroke-width="1.3" stroke-dasharray="5.3,3.5,0.6,4.3,0.6,4.3" stroke-linejoin="round"/>
<path d="M44.6,396.0 L59.4,396.0 L63.1,348.8 L65.2,367.5 L67.2,366.7 L69.3,365.4 L71.3,368.2 L73.4,375.5 L75.4,375.1 L77.5,375.4 L79.6,375.9 L81.6,374.9 L83.7,380.0 L85.7,381.0 L87.8,379.0 L89.8,380.0 L91.9,378.6 L93.9,381.5 L96.0,384.3 L98.1,381.6 L100.1,381.9 L102.2,381.8 L104.2,382.6 L106.3,386.4 L108.3,384.4 L110.4,383.0 L112.4,384.0 L114.5,383.6 L116.6,386.6 L118.6,386.5 L120.7,383.7 L122.7,385.0 L124.8,385.0 L126.8,386.6 L128.9,388.2 L131.0,385.1 L133.0,385.4 L135.1,386.6 L137.1,386.9 L139.2,389.1 L141.2,386.9 L143.3,385.7 L145.3,387.9 L147.4,387.9 L149.5,389.3 L151.5,388.7 L153.6,386.3 L155.6,388.2 L157.7,389.0 L159.7,389.3 L161.8,389.9 L163.8,387.3 L165.9,388.1 L168.0,390.1 L170.0,389.6 L172.1,390.5 L174.1,388.7 L176.2,388.0 L178.2,390.6 L180.3,390.3 L182.4,390.3 L184.4,389.8 L186.5,388.1 L188.5,390.4 L190.6,391.2 L192.6,390.2 L194.7,390.5 L196.7,388.7 L198.8,389.9 L200.9,391.9 L202.9,390.6 L205.0,390.7 L207.0,389.8 L209.1,389.6 L211.1,392.3 L213.2,391.5 L215.2,390.6 L217.3,390.8 L219.4,389.9 L221.4,392.1 L223.5,392.6 L225.5,390.8 L227.6,391.3 L229.6,390.7 L231.7,391.8 L233.8,393.4 L235.8,391.5 L237.3,391.9" fill="none" stroke="#1f9a50" stroke-width="1.3" stroke-dasharray="6.3,4,0.8,4.4" stroke-linejoin="round"/>
<path d="M44.6,396.0 L56.7,396.0 L57.3,340.7 L59.0,355.4 L61.0,361.7 L63.1,362.9 L65.2,367.6 L67.2,373.5 L69.3,373.2 L71.3,375.6 L73.4,371.4 L75.4,375.0 L77.5,376.5 L79.6,379.5 L81.6,380.1 L83.7,377.2 L85.7,379.1 L87.8,378.5 L89.8,383.4 L91.9,382.4 L93.9,382.4 L96.0,381.1 L98.1,381.1 L100.1,384.7 L102.2,384.2 L104.2,386.0 L106.3,382.9 L108.3,384.0 L110.4,384.5 L112.4,386.2 L114.5,387.3 L116.6,384.7 L118.6,385.6 L120.7,384.2 L122.7,387.6 L124.8,387.3 L126.8,387.2 L128.9,386.2 L131.0,384.9 L133.0,387.6 L135.1,387.3 L137.1,389.2 L139.2,386.5 L141.2,386.6 L143.3,386.8 L145.3,387.9 L147.4,389.8 L149.5,387.6 L151.5,388.1 L153.6,386.3 L155.6,388.8 L157.7,389.4 L159.7,389.5 L161.8,388.9 L163.8,387.1 L165.9,389.2 L168.0,389.0 L170.0,391.1 L172.1,389.3 L174.1,388.8 L176.2,388.8 L178.2,389.2 L180.3,391.5 L182.4,389.8 L184.4,390.2 L186.5,388.2 L188.5,389.8 L190.6,390.7 L192.6,390.9 L194.7,390.9 L196.7,388.6 L198.8,390.2 L200.9,389.8 L202.9,392.0 L205.0,391.0 L207.0,390.2 L209.1,390.0 L211.1,389.8 L213.2,392.3 L215.2,391.3 L217.3,391.8 L219.4,389.9 L221.4,390.6 L223.5,391.7 L225.5,392.0 L227.6,392.7 L229.6,390.4 L231.7,391.4 L233.8,390.9 L235.8,392.9 L237.3,391.9" fill="none" stroke="#4a80f0" stroke-width="1.4" stroke-dasharray="1.5,5.8" stroke-linejoin="round"/>
<path d="M44.6,396.0 L51.0,396.0 L51.5,318.8 L52.8,339.1 L54.9,353.6 L56.9,361.2 L59.0,363.3 L61.0,367.0 L63.1,374.0 L65.2,372.4 L67.2,372.6 L69.3,374.0 L71.3,373.2 L73.4,378.4 L75.4,380.1 L77.5,378.3 L79.6,379.5 L81.6,377.9 L83.7,379.5 L85.7,383.7 L87.8,382.6 L89.8,383.1 L91.9,382.6 L93.9,381.0 L96.0,384.7 L98.1,385.6 L100.1,384.8 L102.2,385.4 L104.2,383.1 L106.3,384.3 L108.3,387.1 L110.4,386.3 L112.4,387.1 L114.5,385.9 L116.6,384.3 L118.6,387.2 L120.7,387.7 L122.7,387.8 L124.8,388.3 L126.8,385.6 L128.9,386.5 L131.0,388.5 L133.0,388.1 L135.1,389.4 L137.1,387.8 L139.2,386.2 L141.2,388.5 L143.3,388.6 L145.3,389.5 L147.4,389.9 L149.5,387.3 L151.5,388.1 L153.6,389.3 L155.6,389.3 L157.7,391.0 L159.7,389.3 L161.8,388.1 L163.8,389.6 L165.9,389.5 L168.0,391.0 L170.0,391.4 L172.1,389.0 L174.1,389.7 L176.2,390.1 L178.2,390.4 L180.3,392.3 L182.4,390.6 L184.4,389.6 L186.5,390.5 L188.5,390.0 L190.6,391.9 L192.6,392.2 L194.7,390.2 L196.7,390.7 L198.8,390.4 L200.9,390.9 L202.9,392.9 L205.0,391.4 L207.0,390.7 L209.1,390.9 L211.1,390.3 L213.2,392.4 L215.2,392.7 L217.3,391.1 L219.4,391.4 L221.4,390.5 L223.5,391.2 L225.5,393.2 L227.6,392.0 L229.6,391.7 L231.7,391.3 L233.8,390.5 L235.8,392.7 L237.3,391.9" fill="none" stroke="#f0303a" stroke-width="1.3" stroke-dasharray="5.7,7" stroke-linejoin="round"/>
<path d="M44.6,396.0 L47.4,396.0 L49.3,310.0 L50.6,352.0 L53.3,349.9 L55.5,358.8 L57.0,352.0 L58.8,364.3 L62.2,366.5 L66.2,367.6 L69.9,375.4 L75.5,382.0 L84.3,385.4 L93.2,386.5 L99.9,383.1 L104.3,385.4 L112.1,382.5 L116.5,387.6 L124.3,388.7 L133.0,390.9 L139.7,391.4 L152.5,391.1 L173.1,391.5 L188.5,391.5 L201.9,389.2 L214.2,391.1 L237.3,392.7" fill="none" stroke="#3a3a3a" stroke-width="1.15" stroke-linejoin="round"/>
<path d="M39.1,241.8 V403.5 H250.2" fill="none" stroke="#303030" stroke-width="1.25"/>
<line x1="35.5" y1="396.0" x2="39.1" y2="396.0" stroke="#303030" stroke-width="1.3"/>
<text x="34.5" y="398.5" text-anchor="end" font-size="7.0" letter-spacing="0.35" class="tk">0.0</text>
<line x1="35.5" y1="371.6" x2="39.1" y2="371.6" stroke="#303030" stroke-width="1.3"/>
<text x="34.5" y="374.1" text-anchor="end" font-size="7.0" letter-spacing="0.35" class="tk">0.3</text>
<line x1="35.5" y1="347.2" x2="39.1" y2="347.2" stroke="#303030" stroke-width="1.3"/>
<text x="34.5" y="349.7" text-anchor="end" font-size="7.0" letter-spacing="0.35" class="tk">0.6</text>
<line x1="35.5" y1="322.8" x2="39.1" y2="322.8" stroke="#303030" stroke-width="1.3"/>
<text x="34.5" y="325.3" text-anchor="end" font-size="7.0" letter-spacing="0.35" class="tk">0.9</text>
<line x1="35.5" y1="298.4" x2="39.1" y2="298.4" stroke="#303030" stroke-width="1.3"/>
<text x="34.5" y="301.0" text-anchor="end" font-size="7.0" letter-spacing="0.35" class="tk">1.2</text>
<line x1="35.5" y1="274.1" x2="39.1" y2="274.1" stroke="#303030" stroke-width="1.3"/>
<text x="34.5" y="276.6" text-anchor="end" font-size="7.0" letter-spacing="0.35" class="tk">1.5</text>
<line x1="35.5" y1="249.7" x2="39.1" y2="249.7" stroke="#303030" stroke-width="1.3"/>
<text x="34.5" y="252.2" text-anchor="end" font-size="7.0" letter-spacing="0.35" class="tk">1.8</text>
<line x1="37.3" y1="383.8" x2="39.1" y2="383.8" stroke="#303030" stroke-width="1.0"/>
<line x1="37.3" y1="359.4" x2="39.1" y2="359.4" stroke="#303030" stroke-width="1.0"/>
<line x1="37.3" y1="335.0" x2="39.1" y2="335.0" stroke="#303030" stroke-width="1.0"/>
<line x1="37.3" y1="310.6" x2="39.1" y2="310.6" stroke="#303030" stroke-width="1.0"/>
<line x1="37.3" y1="286.2" x2="39.1" y2="286.2" stroke="#303030" stroke-width="1.0"/>
<line x1="37.3" y1="261.9" x2="39.1" y2="261.9" stroke="#303030" stroke-width="1.0"/>
<line x1="44.6" y1="403.5" x2="44.6" y2="406.8" stroke="#303030" stroke-width="1.3"/>
<text x="44.8" y="414.8" text-anchor="middle" font-size="7.0" letter-spacing="0.35" class="tx">0.0</text>
<line x1="96.0" y1="403.5" x2="96.0" y2="406.8" stroke="#303030" stroke-width="1.3"/>
<text x="96.2" y="414.8" text-anchor="middle" font-size="7.0" letter-spacing="0.35" class="tx">0.1</text>
<line x1="147.4" y1="403.5" x2="147.4" y2="406.8" stroke="#303030" stroke-width="1.3"/>
<text x="147.6" y="414.8" text-anchor="middle" font-size="7.0" letter-spacing="0.35" class="tx">0.2</text>
<line x1="198.8" y1="403.5" x2="198.8" y2="406.8" stroke="#303030" stroke-width="1.3"/>
<text x="199.0" y="414.8" text-anchor="middle" font-size="7.0" letter-spacing="0.35" class="tx">0.3</text>
<line x1="250.2" y1="403.5" x2="250.2" y2="406.8" stroke="#303030" stroke-width="1.3"/>
<text x="250.4" y="414.8" text-anchor="middle" font-size="7.0" letter-spacing="0.35" class="tx">0.4</text>
<line x1="70.3" y1="403.5" x2="70.3" y2="405.3" stroke="#303030" stroke-width="1.0"/>
<line x1="121.7" y1="403.5" x2="121.7" y2="405.3" stroke="#303030" stroke-width="1.0"/>
<line x1="173.1" y1="403.5" x2="173.1" y2="405.3" stroke="#303030" stroke-width="1.0"/>
<line x1="224.5" y1="403.5" x2="224.5" y2="405.3" stroke="#303030" stroke-width="1.0"/>
<text transform="translate(13.8,331.5) rotate(-90)" text-anchor="middle" font-size="8.1">Pressure</text>
<text transform="translate(45.0,336.5) rotate(-90)" text-anchor="middle" font-size="6.8" font-weight="bold" style="font-family:'Liberation Sans',sans-serif">(MPa)</text>
<text x="127.6" y="427.7" font-size="8.20" textLength="26.6" lengthAdjust="spacingAndGlyphs">Time (s)</text>
<text x="123.7" y="446.1" font-size="10.8" textLength="38.2" lengthAdjust="spacingAndGlyphs"><tspan font-weight="bold">(c)</tspan> 50 m</text>
<text x="61.1" y="249.6" font-size="7.40" textLength="49.1" lengthAdjust="spacingAndGlyphs">(0.047, 1.71918)</text>
<text x="77.0" y="260.0" font-size="7.40" textLength="29.0" lengthAdjust="spacingAndGlyphs">Air Baffle</text>
<text x="118.9" y="368.0" font-size="7.40" textLength="48.6" lengthAdjust="spacingAndGlyphs">(0.258, 0.21886)</text>
<text x="166.3" y="349.9" font-size="7.40" textLength="48.0" lengthAdjust="spacingAndGlyphs">(0.302, 0.38361)</text>
<line x1="69.8" y1="255.5" x2="85.4" y2="251.1" stroke="#333" stroke-width="0.7"/>
<line x1="167.5" y1="368.0" x2="176.2" y2="377.6" stroke="#333" stroke-width="0.7"/>
<line x1="189.6" y1="351.4" x2="199.5" y2="364.2" stroke="#333" stroke-width="0.7"/>
<line x1="191.0" y1="246.0" x2="208.3" y2="246.0" stroke="#3a3a3a" stroke-width="1.5"/>
<text x="210.5" y="248.7" font-size="7.98" class="lg">G1-10m</text>
<line x1="191.0" y1="255.4" x2="208.3" y2="255.4" stroke="#f0303a" stroke-width="1.4" stroke-dasharray="5.7,7"/>
<text x="210.5" y="258.1" font-size="7.98" class="lg">G1-20m</text>
<line x1="191.0" y1="264.9" x2="208.3" y2="264.9" stroke="#4a80f0" stroke-width="1.4" stroke-dasharray="1.5,5.8"/>
<text x="210.5" y="267.6" font-size="7.98" class="lg">G1-30m</text>
<line x1="191.0" y1="274.3" x2="208.3" y2="274.3" stroke="#1f9a50" stroke-width="1.4" stroke-dasharray="6.3,4,0.8,4.4"/>
<text x="210.5" y="277.0" font-size="7.98" class="lg">G1-40m</text>
<line x1="191.0" y1="283.7" x2="208.3" y2="283.7" stroke="#9a5cf0" stroke-width="1.4" stroke-dasharray="5.3,3.5,0.6,4.3,0.6,4.3"/>
<text x="210.5" y="286.4" font-size="7.98" class="lg">G1-50m</text>
<line x1="191.0" y1="293.1" x2="208.3" y2="293.1" stroke="#d49a10" stroke-width="1.4" stroke-dasharray="2.5,3"/>
<text x="210.5" y="295.9" font-size="7.98" class="lg">G1-60m</text>
<line x1="191.0" y1="302.6" x2="208.3" y2="302.6" stroke="#a8ecec" stroke-width="1.4" stroke-dasharray="1,1.7"/>
<text x="210.5" y="305.3" font-size="7.98" class="lg">G1-70m</text>
<line x1="191.0" y1="312.0" x2="208.3" y2="312.0" stroke="#7a3838" stroke-width="1.4" stroke-dasharray="4.2,2.8,0.3,2.9"/>
<text x="210.5" y="314.7" font-size="7.98" class="lg">G1-190m</text>
<path d="M322.0,400.7 L479.1,400.7 L480.3,374.9 L485.0,380.0 L493.3,383.2 L504.1,385.2 L505.1,379.3 L507.4,354.1 L509.9,358.3 L516.6,362.4 L527.4,369.9" fill="none" stroke="#8a4040" stroke-width="1.25" stroke-dasharray="3,1.6,1,1.6" stroke-linejoin="round"/>
<path d="M322.0,400.7 L364.1,400.7 L364.8,254.7 L366.6,261.5 L368.9,365.9 L371.2,354.3 L373.6,337.1 L375.9,341.7 L378.2,343.0 L380.5,345.8 L382.9,353.6 L385.2,359.2 L387.5,365.5 L389.9,369.5 L392.2,375.6 L394.5,377.3 L396.8,380.5 L399.2,380.4 L401.5,383.8 L403.8,383.8 L406.2,386.8 L408.5,386.0 L410.8,387.3 L413.1,385.5 L415.5,387.1 L417.8,386.9 L420.1,389.1 L422.4,388.9 L424.8,389.5 L427.1,388.2 L429.4,388.3 L431.8,388.4 L434.1,389.5 L436.4,390.5 L438.7,390.5 L441.1,390.4 L443.4,389.3 L445.7,389.9 L448.1,389.8 L450.4,391.7 L452.7,391.2 L455.0,392.2 L457.4,390.4 L459.7,391.2 L462.0,390.4 L464.4,392.5 L466.7,392.1 L469.0,393.4 L471.3,391.9 L473.7,392.3 L476.0,391.4 L478.3,392.9 L480.6,393.2 L483.0,394.1 L485.3,393.6 L487.6,393.2 L490.0,392.9 L492.3,393.2 L494.6,394.3 L496.9,394.6 L499.3,395.2 L501.6,394.1 L503.9,394.2 L506.3,393.4 L508.6,394.9 L510.9,394.7 L513.2,396.0 L515.6,394.7 L517.9,395.1 L520.2,393.8 L522.6,395.1 L524.9,394.9 L527.2,396.4 L529.0,395.3" fill="none" stroke="#a6eaea" stroke-width="0.75" stroke-linejoin="round"/>
<path d="M322.0,400.7 L357.4,400.7 L358.0,346.6 L359.6,370.7 L361.9,371.1 L364.2,371.9 L366.6,365.7 L368.9,367.1 L371.2,372.9 L373.6,373.7 L375.9,375.7 L378.2,376.8 L380.5,379.1 L382.9,382.3 L385.2,380.0 L387.5,377.7 L389.9,377.0 L392.2,376.2 L394.5,380.9 L396.8,381.5 L399.2,381.3 L401.5,384.9 L403.8,385.8 L406.2,387.0 L408.5,386.6 L410.8,384.7 L413.1,387.1 L415.5,387.9 L417.8,387.5 L420.1,387.6 L422.4,386.4 L424.8,388.5 L427.1,389.7 L429.4,388.1 L431.8,388.7 L434.1,388.6 L436.4,389.9 L438.7,391.1 L441.1,389.1 L443.4,389.6 L445.7,390.6 L448.1,390.9 L450.4,391.7 L452.7,389.9 L455.0,390.3 L457.4,392.2 L459.7,391.6 L462.0,391.8 L464.4,391.0 L466.7,391.3 L469.0,393.4 L471.3,392.4 L473.7,391.9 L476.0,392.3 L478.3,392.5 L480.6,394.2 L483.0,393.2 L485.3,392.2 L487.6,393.6 L490.0,393.8 L492.3,394.5 L494.6,394.0 L496.9,392.9 L499.3,394.8 L501.6,394.9 L503.9,394.5 L506.3,394.4 L508.6,393.6 L510.9,395.3 L513.2,395.6 L515.6,394.3 L517.9,394.7 L520.2,394.6 L522.6,395.6 L524.9,396.1 L527.2,394.3 L529.0,395.3" fill="none" stroke="#d49a10" stroke-width="1.5" stroke-dasharray="2,1.8" stroke-linejoin="round"/>
<path d="M322.0,400.7 L349.7,400.7 L350.4,340.7 L352.3,357.9 L354.6,361.6 L357.0,365.7 L359.3,371.1 L361.6,371.1 L364.0,373.1 L366.3,371.9 L368.6,373.5 L370.9,377.7 L373.3,377.8 L375.6,379.7 L377.9,378.2 L380.3,379.3 L382.6,382.4 L384.9,382.3 L387.2,383.8 L389.6,381.7 L391.9,382.1 L394.2,384.2 L396.6,384.4 L398.9,386.0 L401.2,383.9 L403.5,384.1 L405.9,385.7 L408.2,386.0 L410.5,387.8 L412.8,385.7 L415.2,385.9 L417.5,386.9 L419.8,387.5 L422.2,389.4 L424.5,387.5 L426.8,387.7 L429.1,388.2 L431.5,388.9 L433.8,390.8 L436.1,389.1 L438.5,389.3 L440.8,389.4 L443.1,390.0 L445.4,391.9 L447.8,390.3 L450.1,390.5 L452.4,390.1 L454.8,390.8 L457.1,392.6 L459.4,391.3 L461.7,391.5 L464.1,390.8 L466.4,391.5 L468.7,393.3 L471.0,392.3 L473.4,392.6 L475.7,391.6 L478.0,392.3 L480.4,394.0 L482.7,393.2 L485.0,393.7 L487.3,392.5 L489.7,393.1 L492.0,394.6 L494.3,394.2 L496.7,394.7 L499.0,393.3 L501.3,393.8 L503.6,395.1 L506.0,394.8 L508.3,395.3 L510.6,393.8 L513.0,394.2 L515.3,395.2 L517.6,395.2 L519.9,395.9 L522.3,394.3 L524.6,394.6 L526.9,395.4 L529.0,395.3" fill="none" stroke="#9a5cf0" stroke-width="1.3" stroke-dasharray="3.6,2,0.8,2.5,0.8,2.5" stroke-linejoin="round"/>
<path d="M322.0,400.7 L342.1,400.7 L342.8,333.2 L344.8,352.5 L347.1,361.8 L349.4,362.1 L351.7,365.0 L354.1,369.6 L356.4,369.9 L358.7,373.2 L361.0,370.8 L363.4,371.5 L365.7,372.0 L368.0,372.9 L370.4,376.8 L372.7,376.5 L375.0,378.8 L377.3,377.6 L379.7,378.0 L382.0,379.8 L384.3,379.9 L386.7,383.2 L389.0,382.5 L391.3,383.6 L393.6,382.8 L396.0,382.2 L398.3,384.2 L400.6,384.1 L403.0,386.7 L405.3,386.0 L407.6,386.1 L409.9,385.8 L412.3,384.7 L414.6,386.9 L416.9,386.7 L419.2,388.7 L421.6,388.4 L423.9,387.8 L426.2,388.1 L428.6,386.9 L430.9,389.1 L433.2,389.2 L435.5,390.5 L437.9,390.5 L440.2,389.3 L442.5,390.0 L444.9,388.9 L447.2,390.8 L449.5,391.1 L451.8,391.6 L454.2,391.9 L456.5,390.3 L458.8,391.1 L461.2,390.4 L463.5,392.0 L465.8,392.7 L468.1,392.5 L470.5,393.0 L472.8,391.3 L475.1,392.2 L477.4,392.0 L479.8,393.1 L482.1,394.1 L484.4,393.4 L486.8,394.0 L489.1,392.5 L491.4,393.3 L493.7,393.6 L496.1,394.2 L498.4,395.5 L500.7,394.3 L503.1,394.8 L505.4,393.6 L507.7,394.0 L510.0,394.8 L512.4,394.8 L514.7,396.1 L517.0,394.8 L519.4,395.1 L521.7,394.3 L524.0,394.4 L526.3,395.7 L528.7,395.4 L529.0,395.3" fill="none" stroke="#1f9a50" stroke-width="1.3" stroke-dasharray="4.4,2.6,0.8,2.6" stroke-linejoin="round"/>
<path d="M322.0,400.7 L334.6,400.7 L335.1,320.4 L337.2,347.1 L339.5,353.9 L341.8,360.9 L344.2,359.4 L346.5,363.6 L348.8,364.8 L351.2,369.0 L353.5,371.5 L355.8,372.6 L358.1,373.6 L360.5,372.5 L362.8,375.0 L365.1,375.1 L367.5,379.4 L369.8,379.4 L372.1,381.6 L374.4,379.4 L376.8,380.6 L379.1,380.1 L381.4,382.4 L383.7,383.5 L386.1,384.3 L388.4,384.6 L390.7,383.2 L393.1,384.0 L395.4,383.4 L397.7,386.2 L400.0,385.9 L402.4,387.7 L404.7,385.8 L407.0,386.3 L409.4,385.2 L411.7,386.6 L414.0,387.3 L416.3,388.2 L418.7,388.5 L421.0,387.3 L423.3,387.6 L425.7,386.7 L428.0,388.9 L430.3,388.7 L432.6,390.7 L435.0,389.3 L437.3,389.9 L439.6,388.6 L441.9,389.7 L444.3,390.2 L446.6,391.2 L448.9,391.6 L451.3,390.8 L453.6,390.9 L455.9,389.8 L458.2,391.4 L460.6,391.1 L462.9,393.0 L465.2,392.0 L467.6,392.5 L469.9,391.1 L472.2,391.8 L474.5,392.1 L476.9,393.1 L479.2,393.8 L481.5,393.3 L483.9,393.4 L486.2,392.2 L488.5,393.4 L490.8,393.1 L493.2,395.0 L495.5,394.3 L497.8,395.0 L500.1,393.6 L502.5,394.0 L504.8,393.8 L507.1,394.8 L509.5,395.4 L511.8,395.2 L514.1,395.2 L516.4,394.0 L518.8,394.7 L521.1,394.2 L523.4,396.0 L525.8,395.4 L528.1,396.3 L529.0,395.3" fill="none" stroke="#4a80f0" stroke-width="1.4" stroke-dasharray="1.2,3.0" stroke-linejoin="round"/>
<path d="M322.0,400.7 L328.2,400.7 L330.8,307.8 L331.7,325.7 L334.0,344.3 L336.3,348.0 L338.6,355.8 L341.0,360.5 L343.3,364.2 L345.6,364.0 L348.0,365.4 L350.3,369.3 L352.6,371.8 L354.9,373.3 L357.3,372.1 L359.6,374.9 L361.9,376.3 L364.2,379.7 L366.6,377.9 L368.9,379.4 L371.2,378.9 L373.6,382.9 L375.9,382.1 L378.2,383.3 L380.5,381.2 L382.9,384.0 L385.2,384.3 L387.5,386.1 L389.9,384.1 L392.2,384.8 L394.5,385.2 L396.8,387.5 L399.2,387.2 L401.5,386.6 L403.8,386.2 L406.2,387.3 L408.5,388.7 L410.8,388.1 L413.1,387.7 L415.5,387.0 L417.8,389.1 L420.1,389.1 L422.4,389.8 L424.8,387.7 L427.1,389.1 L429.4,389.1 L431.8,391.0 L434.1,389.0 L436.4,389.5 L438.7,388.7 L441.1,391.2 L443.4,390.5 L445.7,390.8 L448.1,389.3 L450.4,390.8 L452.7,391.3 L455.0,392.0 L457.4,390.8 L459.7,390.6 L462.0,391.4 L464.4,392.4 L466.7,392.6 L469.0,391.4 L471.3,391.8 L473.7,392.1 L476.0,393.8 L478.3,392.7 L480.6,392.9 L483.0,391.9 L485.3,394.0 L487.6,393.7 L490.0,394.4 L492.3,392.6 L494.6,394.0 L496.9,394.0 L499.3,395.5 L501.6,394.0 L503.9,394.2 L506.3,393.8 L508.6,395.4 L510.9,395.1 L513.2,394.8 L515.6,394.1 L517.9,394.7 L520.2,395.6 L522.6,395.6 L524.9,395.1 L527.2,394.4 L529.0,395.3" fill="none" stroke="#f0303a" stroke-width="1.3" stroke-dasharray="4.3,3.7" stroke-linejoin="round"/>
<path d="M322.0,400.7 L324.9,400.7 L327.0,299.7 L330.0,338.6 L331.8,339.7 L333.3,343.9 L335.0,343.0 L337.7,355.5 L341.2,358.1 L345.6,358.1 L348.3,361.7 L351.8,370.5 L355.4,375.9 L361.6,379.4 L370.5,383.5 L379.3,385.2 L388.2,386.0 L397.1,387.0 L409.5,388.3 L415.0,389.1 L419.8,388.9 L426.8,386.8 L435.0,390.5 L442.5,387.4 L450.1,390.0 L469.3,392.1 L486.8,394.3 L510.0,395.3 L529.0,395.6" fill="none" stroke="#3a3a3a" stroke-width="1.15" stroke-linejoin="round"/>
<path d="M316.3,239.3 V406.3 H529.5" fill="none" stroke="#303030" stroke-width="1.25"/>
<line x1="312.7" y1="400.7" x2="316.3" y2="400.7" stroke="#303030" stroke-width="1.3"/>
<text x="311.1" y="403.2" text-anchor="end" font-size="7.0" letter-spacing="0.35" class="tk">0.0</text>
<line x1="312.7" y1="379.3" x2="316.3" y2="379.3" stroke="#303030" stroke-width="1.3"/>
<text x="311.1" y="381.8" text-anchor="end" font-size="7.0" letter-spacing="0.35" class="tk">0.2</text>
<line x1="312.7" y1="357.9" x2="316.3" y2="357.9" stroke="#303030" stroke-width="1.3"/>
<text x="311.1" y="360.4" text-anchor="end" font-size="7.0" letter-spacing="0.35" class="tk">0.4</text>
<line x1="312.7" y1="336.4" x2="316.3" y2="336.4" stroke="#303030" stroke-width="1.3"/>
<text x="311.1" y="339.0" text-anchor="end" font-size="7.0" letter-spacing="0.35" class="tk">0.6</text>
<line x1="312.7" y1="315.0" x2="316.3" y2="315.0" stroke="#303030" stroke-width="1.3"/>
<text x="311.1" y="317.5" text-anchor="end" font-size="7.0" letter-spacing="0.35" class="tk">0.8</text>
<line x1="312.7" y1="293.6" x2="316.3" y2="293.6" stroke="#303030" stroke-width="1.3"/>
<text x="311.1" y="296.1" text-anchor="end" font-size="7.0" letter-spacing="0.35" class="tk">1.0</text>
<line x1="312.7" y1="272.2" x2="316.3" y2="272.2" stroke="#303030" stroke-width="1.3"/>
<text x="311.1" y="274.7" text-anchor="end" font-size="7.0" letter-spacing="0.35" class="tk">1.2</text>
<line x1="312.7" y1="250.8" x2="316.3" y2="250.8" stroke="#303030" stroke-width="1.3"/>
<text x="311.1" y="253.3" text-anchor="end" font-size="7.0" letter-spacing="0.35" class="tk">1.4</text>
<line x1="314.5" y1="390.0" x2="316.3" y2="390.0" stroke="#303030" stroke-width="1.0"/>
<line x1="314.5" y1="368.6" x2="316.3" y2="368.6" stroke="#303030" stroke-width="1.0"/>
<line x1="314.5" y1="347.1" x2="316.3" y2="347.1" stroke="#303030" stroke-width="1.0"/>
<line x1="314.5" y1="325.7" x2="316.3" y2="325.7" stroke="#303030" stroke-width="1.0"/>
<line x1="314.5" y1="304.3" x2="316.3" y2="304.3" stroke="#303030" stroke-width="1.0"/>
<line x1="314.5" y1="282.9" x2="316.3" y2="282.9" stroke="#303030" stroke-width="1.0"/>
<line x1="314.5" y1="261.5" x2="316.3" y2="261.5" stroke="#303030" stroke-width="1.0"/>
<line x1="314.5" y1="240.1" x2="316.3" y2="240.1" stroke="#303030" stroke-width="1.0"/>
<line x1="322.0" y1="406.3" x2="322.0" y2="409.6" stroke="#303030" stroke-width="1.3"/>
<text x="322.2" y="417.9" text-anchor="middle" font-size="7.0" letter-spacing="0.35" class="tx">0.0</text>
<line x1="381.3" y1="406.3" x2="381.3" y2="409.6" stroke="#303030" stroke-width="1.3"/>
<text x="381.5" y="417.9" text-anchor="middle" font-size="7.0" letter-spacing="0.35" class="tx">0.1</text>
<line x1="440.6" y1="406.3" x2="440.6" y2="409.6" stroke="#303030" stroke-width="1.3"/>
<text x="440.8" y="417.9" text-anchor="middle" font-size="7.0" letter-spacing="0.35" class="tx">0.2</text>
<line x1="499.9" y1="406.3" x2="499.9" y2="409.6" stroke="#303030" stroke-width="1.3"/>
<text x="500.1" y="417.9" text-anchor="middle" font-size="7.0" letter-spacing="0.35" class="tx">0.3</text>
<line x1="351.6" y1="406.3" x2="351.6" y2="408.1" stroke="#303030" stroke-width="1.0"/>
<line x1="410.9" y1="406.3" x2="410.9" y2="408.1" stroke="#303030" stroke-width="1.0"/>
<line x1="470.2" y1="406.3" x2="470.2" y2="408.1" stroke="#303030" stroke-width="1.0"/>
<line x1="529.5" y1="406.3" x2="529.5" y2="408.1" stroke="#303030" stroke-width="1.0"/>
<text transform="translate(292.1,332.0) rotate(-90)" text-anchor="middle" font-size="8.1">Pressure</text>
<text transform="translate(322.9,336.5) rotate(-90)" text-anchor="middle" font-size="6.8" font-weight="bold" style="font-family:'Liberation Sans',sans-serif">(MPa)</text>
<text x="395.5" y="427.3" font-size="8.20" textLength="26.3" lengthAdjust="spacingAndGlyphs">Time (s)</text>
<text x="407.5" y="445.9" font-size="10.8" textLength="39.7" lengthAdjust="spacingAndGlyphs"><tspan font-weight="bold">(d)</tspan> 70 m</text>
<text x="366.2" y="252.3" font-size="7.40" textLength="49.2" lengthAdjust="spacingAndGlyphs">(0.075, 1.36304)</text>
<text x="379.9" y="262.9" font-size="7.40" textLength="29.9" lengthAdjust="spacingAndGlyphs">Air Baffle</text>
<text x="424.3" y="365.3" font-size="7.40" textLength="44.2" lengthAdjust="spacingAndGlyphs">(0.268, 0.2504)</text>
<text x="477.3" y="340.6" font-size="7.40" textLength="48.0" lengthAdjust="spacingAndGlyphs">(0.313, 0.44603)</text>
<line x1="468.5" y1="366.5" x2="480.2" y2="373.8" stroke="#333" stroke-width="0.7"/>
<line x1="500.5" y1="342.7" x2="507.0" y2="351.4" stroke="#333" stroke-width="0.7"/>
<line x1="486.6" y1="239.4" x2="504.3" y2="239.4" stroke="#3a3a3a" stroke-width="1.2000000000000002"/>
<text x="506.5" y="242.2" font-size="8.19" class="lg">G1-10m</text>
<line x1="486.6" y1="249.1" x2="504.3" y2="249.1" stroke="#f0303a" stroke-width="1.1199999999999999" stroke-dasharray="4.3,3.7"/>
<text x="506.5" y="251.8" font-size="8.19" class="lg">G1-20m</text>
<line x1="486.6" y1="258.7" x2="504.3" y2="258.7" stroke="#4a80f0" stroke-width="1.1199999999999999" stroke-dasharray="1.2,3.8"/>
<text x="506.5" y="261.5" font-size="8.19" class="lg">G1-30m</text>
<line x1="486.6" y1="268.4" x2="504.3" y2="268.4" stroke="#1f9a50" stroke-width="1.1199999999999999" stroke-dasharray="4.4,2.6,0.8,2.6"/>
<text x="506.5" y="271.2" font-size="8.19" class="lg">G1-40m</text>
<line x1="486.6" y1="278.0" x2="504.3" y2="278.0" stroke="#9a5cf0" stroke-width="1.1199999999999999" stroke-dasharray="3.6,2,0.8,2.5,0.8,2.5"/>
<text x="506.5" y="280.8" font-size="8.19" class="lg">G1-50m</text>
<line x1="486.6" y1="287.7" x2="504.3" y2="287.7" stroke="#d49a10" stroke-width="1.1199999999999999" stroke-dasharray="2,1.8"/>
<text x="506.5" y="290.5" font-size="8.19" class="lg">G1-60m</text>
<line x1="486.6" y1="297.4" x2="504.3" y2="297.4" stroke="#a8ecec" stroke-width="1.1199999999999999" stroke-dasharray="1,1"/>
<text x="506.5" y="300.1" font-size="8.19" class="lg">G1-70m</text>
<line x1="486.6" y1="307.0" x2="504.3" y2="307.0" stroke="#7a3838" stroke-width="1.1199999999999999" stroke-dasharray="3.3,1.2,0.8,1.2"/>
<text x="506.5" y="309.8" font-size="8.19" class="lg">G1-190m</text>
</svg>
</body></html>
